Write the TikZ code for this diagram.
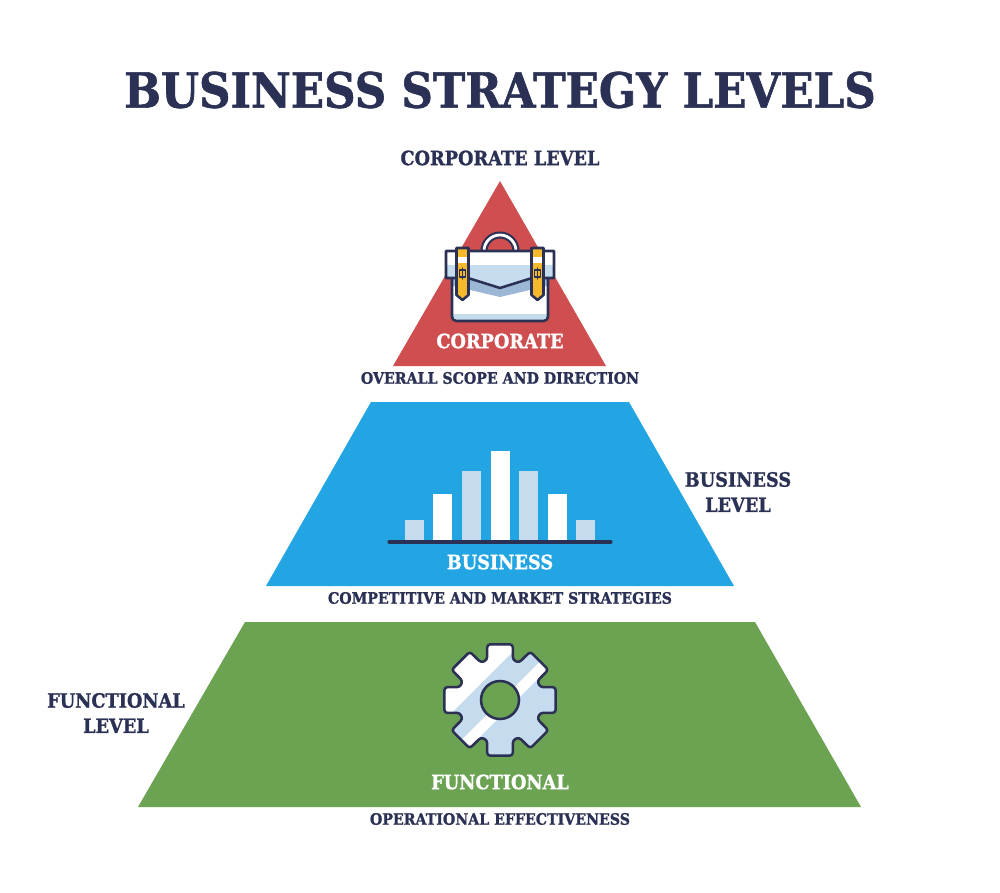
\documentclass[tikz,border=0pt]{standalone}
\usepackage{fontspec}
\usetikzlibrary{calc}
\newfontfamily\slabfont[FakeStretch=0.9, FakeBold=1.2]{DejaVu Serif}
\definecolor{navy}{HTML}{2B3154}
\definecolor{topred}{HTML}{CF4F50}
\definecolor{midblue}{HTML}{22A5E2}
\definecolor{lowgreen}{HTML}{6BA353}
\definecolor{paleblue}{HTML}{C5DCEF}
\definecolor{steelblue}{HTML}{9DB8D6}
\definecolor{strapyellow}{HTML}{F6B92B}

\begin{document}
\begin{tikzpicture}[x=0.25mm, y=-0.25mm, line cap=round, line join=round,
    heading/.style={text=navy, font=\slabfont\bfseries\fontsize{34.5}{38}\selectfont},
    levellabel/.style={text=navy, align=center, font=\slabfont\bfseries\fontsize{14}{18}\selectfont},
    tiername/.style={text=white, font=\slabfont\bfseries\fontsize{14}{16}\selectfont},
    caption/.style={text=navy, font=\slabfont\bfseries\fontsize{11.2}{13}\selectfont},
    outline/.style={draw=navy, line width=1.8pt}]
  % Page
  \fill[white] (0,0) rectangle (1000,893);
  \useasboundingbox (0,0) rectangle (1000,893);

  % Pyramid tiers
  \fill[topred] (500,181) -- (606,366) -- (393,366) -- cycle;
  \fill[midblue] (371,402) -- (629,402) -- (734,586) -- (266,586) -- cycle;
  \fill[lowgreen] (245,622) -- (755,622) -- (861,807) -- (138,807) -- cycle;

  % Texts
  \node[heading] (title) at (500,90) {BUSINESS STRATEGY LEVELS};
  \node[levellabel] (corplevel) at (500,158) {CORPORATE LEVEL};
  \node[levellabel] (buslevel) at (738,492) {BUSINESS\\LEVEL};
  \node[levellabel] (funclevel) at (116,713) {FUNCTIONAL\\LEVEL};
  \node[tiername] (corpname) at (500,341) {CORPORATE};
  \node[tiername] (busname) at (500,562) {BUSINESS};
  \node[tiername] (funcname) at (500,782) {FUNCTIONAL};
  \node[caption] (corpnote) at (500,378) {OVERALL SCOPE AND DIRECTION};
  \node[caption] (busnote) at (500,598) {COMPETITIVE AND MARKET STRATEGIES};
  \node[caption] (funcnote) at (500,819) {OPERATIONAL EFFECTIVENESS};

  % Briefcase: handle
  \draw[navy, line width=5pt] (484,254) -- (484,251) arc[start angle=180, end angle=360, radius=16] -- (516,254);
  \draw[white, line width=2pt] (484,254) -- (484,251) arc[start angle=180, end angle=360, radius=16] -- (516,254);
  % Briefcase: body
  \fill[white, rounded corners=3pt] (452,270) rectangle (548,321);
  \fill[paleblue] (453,314) rectangle (547,320);
  \fill[steelblue] (453,278) -- (547,278) -- (547,286) -- (500,297) -- (453,286) -- cycle;
  \draw[outline, rounded corners=3pt] (452,278) -- (452,321) -- (548,321) -- (548,278);
  % Briefcase: lid
  \fill[paleblue] (446,251) rectangle (554,278);
  \fill[paleblue] (468,278) -- (532,278) -- (500,288) -- cycle;
  \fill[white] (447,252) rectangle (553,265);
  \draw[outline] (468,278) -- (446,278) -- (446,251) -- (554,251) -- (554,278) -- (532,278) -- (500,288) -- cycle;
  % Briefcase: straps
  \foreach \sx in {457,532} {
    \draw[outline, fill=strapyellow] (\sx-0.5,248) -- (\sx+11.5,248) -- (\sx+11.5,295) -- (\sx+5.5,300) -- (\sx-0.5,295) -- cycle;
    \fill[white] (\sx+0.7,257) rectangle (\sx+10.3,263);
    \draw[navy, line width=0.9pt] (\sx+2.5,270) rectangle (\sx+8.5,277);
    \draw[navy, line width=0.9pt] (\sx+5.5,268) -- (\sx+5.5,279);
  }

  % Bar chart
  \foreach \bx/\btop/\bcol in {405/520/paleblue, 433/494/white, 462/471/paleblue, 490.5/451/white, 519/471/paleblue, 547.5/494/white, 576/520/paleblue}
    \fill[\bcol] (\bx,\btop) rectangle (\bx+19,541);
  \draw[navy, line width=2.2pt] (389,542) -- (611,542);

  % Gear
  \coordinate (G) at (500,700);
  \def\gearpath{($(G)+(-103:57)$) -- ($(G)+(-77:57)$) -- ($(G)+(-72:42)$) -- ($(G)+(-63:42)$)
    \foreach \a in {-45,0,...,225} {
      -- ($(G)+(\a-13:57)$) -- ($(G)+(\a+13:57)$)
      -- ($(G)+(\a+18:42)$) -- ($(G)+(\a+27:42)$)} -- cycle}
  \fill[white, rounded corners=2pt] \gearpath;
  \begin{scope}
    \clip[rounded corners=2pt] \gearpath;
    % light bands, at 45 degrees
    \fill[paleblue] ($(G)+(45:-25)+(-45:90)$) -- ++(135:180) -- ++(45:26) -- ++(-45:180) -- cycle;
    \fill[paleblue] ($(G)+(45:12)+(-45:90)$) -- ++(135:180) -- ++(45:50) -- ++(-45:180) -- cycle;
  \end{scope}
  \draw[outline, rounded corners=2pt] \gearpath;
  \draw[outline, fill=lowgreen] (G) circle (19);
\end{tikzpicture}
\end{document}
